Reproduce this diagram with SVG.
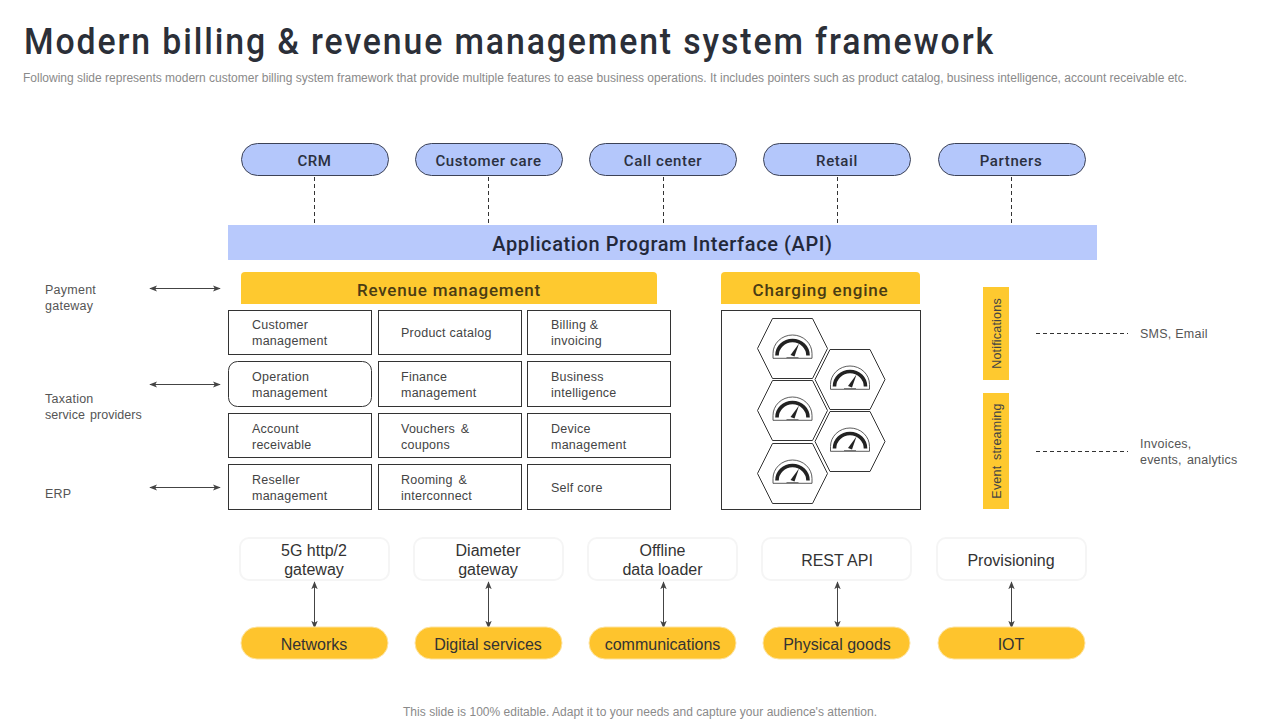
<svg xmlns="http://www.w3.org/2000/svg" xmlns:xlink="http://www.w3.org/1999/xlink" width="1280" height="720" viewBox="0 0 1280 720">
<style>
text{font-family:"Liberation Sans",Arial,sans-serif}
.din{font-family:Roboto,"Noto Sans",sans-serif;font-weight:500;text-anchor:middle}
.pill{fill:#b4c7fb;stroke:#3c4256;stroke-width:1}
.pt{font-size:15px;fill:#2b3040;letter-spacing:.6px}
.cell{fill:#fff;stroke:#333;stroke-width:1}
.ct{font-size:12.5px;fill:#444;letter-spacing:.25px}
.side{font-size:12.5px;fill:#555;letter-spacing:.25px}
.gw{fill:#fff;stroke:#f5f5f5;stroke-width:2}
.gt{font-size:16px;fill:#333;text-anchor:middle}
.yp{fill:#fec42d;stroke:#fde3a0;stroke-width:1}
.dash{stroke:#333;stroke-width:1;stroke-dasharray:4 3;fill:none}
.arr{stroke:#444;stroke-width:1;fill:none;marker-start:url(#h);marker-end:url(#h)}
.vt{font-size:12.5px;fill:#444;text-anchor:middle;letter-spacing:.2px}
.yh{font-size:17px;fill:#4a3c14;letter-spacing:.8px}
</style>
<defs>
<marker id="h" viewBox="0 0 10 8" refX="9" refY="4" markerWidth="8" markerHeight="6.5" markerUnits="userSpaceOnUse" orient="auto-start-reverse"><path d="M0 0L10 4L0 8L2.5 4Z" fill="#444"/></marker>
<g id="hex">
<polygon points="-35,0 -20,-30 20,-30 35,0 20,30 -20,30" fill="#fff" stroke="#333" stroke-width="1"/>
<path d="M-19.500 9.800V5A19.500 18.500 0 0 1 19.500 5V9.800Z" fill="#fff" stroke="#333" stroke-width=".8"/>
<path d="M-15.500 7A15.500 15 0 0 1 15.500 7" fill="none" stroke="#222" stroke-width="3.600"/>
<path d="M-2 6.500L6.500 -5L2 8Z" fill="#222"/>
<path d="M-6 9H6" stroke="#777" stroke-width="1"/>
</g>
</defs>
<rect width="1280" height="720" fill="#fff"/>
<text id="title" x="24" y="54" textLength="971" lengthAdjust="spacingAndGlyphs" style="font-family:Roboto,sans-serif;font-weight:500;font-size:36px;letter-spacing:2px" fill="#2b2f38">Modern billing &amp; revenue management system framework</text>
<text id="subtitle" x="23" y="82" font-size="12" fill="#8a8a8a" textLength="1164" lengthAdjust="spacing">Following slide represents modern customer billing system framework that provide multiple features to ease business operations. It includes pointers such as product catalog, business intelligence, account receivable etc.</text>

<g id="connectors">
<path class="dash" d="M314.500 177V224M488.500 177V224M663.500 177V224M837.500 177V224M1011.500 177V224"/>
<path class="dash" d="M1036 333.500H1128M1036 451.500H1128"/>
<path class="arr" d="M150 288.500H220"/>
<path class="arr" d="M150 384.500H220"/>
<path class="arr" d="M150 487.500H220"/>
<path class="arr" d="M314.500 582V628"/>
<path class="arr" d="M488.500 582V628"/>
<path class="arr" d="M663.500 582V628"/>
<path class="arr" d="M837.500 582V628"/>
<path class="arr" d="M1011.500 582V628"/>
</g>

<g id="n-crm"><rect class="pill" x="241.500" y="143.500" width="147" height="32" rx="16"/><text class="din pt" x="314.500" y="165.500">CRM</text></g>
<g id="n-care"><rect class="pill" x="415.500" y="143.500" width="147" height="32" rx="16"/><text class="din pt" x="488.500" y="165.500">Customer care</text></g>
<g id="n-call"><rect class="pill" x="589.500" y="143.500" width="147" height="32" rx="16"/><text class="din pt" x="663" y="165.500">Call center</text></g>
<g id="n-retail"><rect class="pill" x="763.500" y="143.500" width="147" height="32" rx="16"/><text class="din pt" x="837" y="165.500">Retail</text></g>
<g id="n-partners"><rect class="pill" x="938.500" y="143.500" width="147" height="32" rx="16"/><text class="din pt" x="1011" y="165.500">Partners</text></g>

<g id="n-api"><rect x="228" y="225" width="869" height="35" fill="#b8c9fc"/><text class="din" x="662.500" y="250.500" font-size="20" fill="#23283a" letter-spacing=".6">Application Program Interface (API)</text></g>

<g id="n-revenue"><path d="M241 304V276Q241 272 245 272H653Q657 272 657 276V304Z" fill="#fec92f"/><text class="din yh" x="449" y="295.500">Revenue management</text></g>
<g id="n-charging"><path d="M721 304V276Q721 272 725 272H916Q920 272 920 276V304Z" fill="#fec92f"/><text class="din yh" x="820.500" y="295.500">Charging engine</text></g>

<g id="c-customer"><rect class="cell" x="228.500" y="310.500" width="143" height="44"/><text class="ct" x="252" y="329">Customer</text><text class="ct" x="252" y="345">management</text></g>
<g id="c-catalog"><rect class="cell" x="378.500" y="310.500" width="143" height="44"/><text class="ct" x="401" y="337">Product catalog</text></g>
<g id="c-billing"><rect class="cell" x="527.500" y="310.500" width="143" height="44"/><text class="ct" x="551" y="329">Billing &amp;</text><text class="ct" x="551" y="345">invoicing</text></g>
<g id="c-operation"><rect class="cell" x="228.500" y="361.500" width="143" height="45" rx="9"/><text class="ct" x="252" y="381">Operation</text><text class="ct" x="252" y="397">management</text></g>
<g id="c-finance"><rect class="cell" x="378.500" y="361.500" width="143" height="45"/><text class="ct" x="401" y="381">Finance</text><text class="ct" x="401" y="397">management</text></g>
<g id="c-bi"><rect class="cell" x="527.500" y="361.500" width="143" height="45"/><text class="ct" x="551" y="381">Business</text><text class="ct" x="551" y="397">intelligence</text></g>
<g id="c-account"><rect class="cell" x="228.500" y="413.500" width="143" height="44"/><text class="ct" x="252" y="433">Account</text><text class="ct" x="252" y="449">receivable</text></g>
<g id="c-vouchers"><rect class="cell" x="378.500" y="413.500" width="143" height="44"/><text class="ct" x="401" y="433" word-spacing="2">Vouchers &amp;</text><text class="ct" x="401" y="449">coupons</text></g>
<g id="c-device"><rect class="cell" x="527.500" y="413.500" width="143" height="44"/><text class="ct" x="551" y="433">Device</text><text class="ct" x="551" y="449">management</text></g>
<g id="c-reseller"><rect class="cell" x="228.500" y="464.500" width="143" height="45"/><text class="ct" x="252" y="484">Reseller</text><text class="ct" x="252" y="500">management</text></g>
<g id="c-rooming"><rect class="cell" x="378.500" y="464.500" width="143" height="45"/><text class="ct" x="401" y="484" word-spacing="2">Rooming &amp;</text><text class="ct" x="401" y="500">interconnect</text></g>
<g id="c-selfcore"><rect class="cell" x="527.500" y="464.500" width="143" height="45"/><text class="ct" x="551" y="492">Self core</text></g>

<g id="n-engine">
<rect x="721.500" y="310.500" width="199" height="199" fill="#fff" stroke="#333" stroke-width="1"/>
<use href="#hex" x="792.500" y="348.500"/>
<use href="#hex" x="850" y="379.500"/>
<use href="#hex" x="792.500" y="410.500"/>
<use href="#hex" x="850" y="441.500"/>
<use href="#hex" x="792.500" y="473.500"/>
</g>

<g id="n-notifications"><rect x="983" y="287" width="26" height="93" fill="#fec92f"/><text class="vt" transform="translate(1000.500 333.500) rotate(-90)">Notifications</text></g>
<g id="n-events"><rect x="983" y="393" width="26" height="116" fill="#fec92f"/><text class="vt" transform="translate(1000.500 451) rotate(-90)" word-spacing="2">Event streaming</text></g>

<g id="l-payment"><text class="side" x="45" y="294">Payment</text><text class="side" x="45" y="310">gateway</text></g>
<g id="l-taxation"><text class="side" x="45" y="403">Taxation</text><text class="side" x="45" y="419" word-spacing="1.500" textLength="97" lengthAdjust="spacing">service providers</text></g>
<g id="l-erp"><text class="side" x="45" y="498">ERP</text></g>
<g id="l-sms"><text class="side" x="1140" y="338">SMS, Email</text></g>
<g id="l-invoices"><text class="side" x="1140" y="448">Invoices,</text><text class="side" x="1140" y="464" word-spacing="1.500" textLength="97.500" lengthAdjust="spacing">events, analytics</text></g>

<g id="g-5g"><rect class="gw" x="240" y="538" width="149" height="42" rx="9"/><text class="gt" x="314" y="556">5G http/2</text><text class="gt" x="314" y="575">gateway</text></g>
<g id="g-diameter"><rect class="gw" x="414" y="538" width="149" height="42" rx="9"/><text class="gt" x="488" y="556">Diameter</text><text class="gt" x="488" y="575">gateway</text></g>
<g id="g-offline"><rect class="gw" x="588" y="538" width="149" height="42" rx="9"/><text class="gt" x="662.500" y="556">Offline</text><text class="gt" x="662.500" y="575">data loader</text></g>
<g id="g-rest"><rect class="gw" x="762" y="538" width="149" height="42" rx="9"/><text class="gt" x="837" y="566">REST API</text></g>
<g id="g-prov"><rect class="gw" x="937" y="538" width="149" height="42" rx="9"/><text class="gt" x="1011" y="566">Provisioning</text></g>

<g id="y-networks"><rect class="yp" x="241" y="627" width="147" height="32" rx="16"/><text class="gt" x="314" y="650">Networks</text></g>
<g id="y-digital"><rect class="yp" x="415" y="627" width="147" height="32" rx="16"/><text class="gt" x="488" y="650">Digital services</text></g>
<g id="y-comm"><rect class="yp" x="589" y="627" width="147" height="32" rx="16"/><text class="gt" x="662.500" y="650">communications</text></g>
<g id="y-goods"><rect class="yp" x="763" y="627" width="147" height="32" rx="16"/><text class="gt" x="837" y="650">Physical goods</text></g>
<g id="y-iot"><rect class="yp" x="938" y="627" width="147" height="32" rx="16"/><text class="gt" x="1011" y="650">IOT</text></g>

<text id="footer" x="640" y="716" font-size="12" fill="#8a8a8a" text-anchor="middle" textLength="474" lengthAdjust="spacing">This slide is 100% editable. Adapt it to your needs and capture your audience's attention.</text>
</svg>
